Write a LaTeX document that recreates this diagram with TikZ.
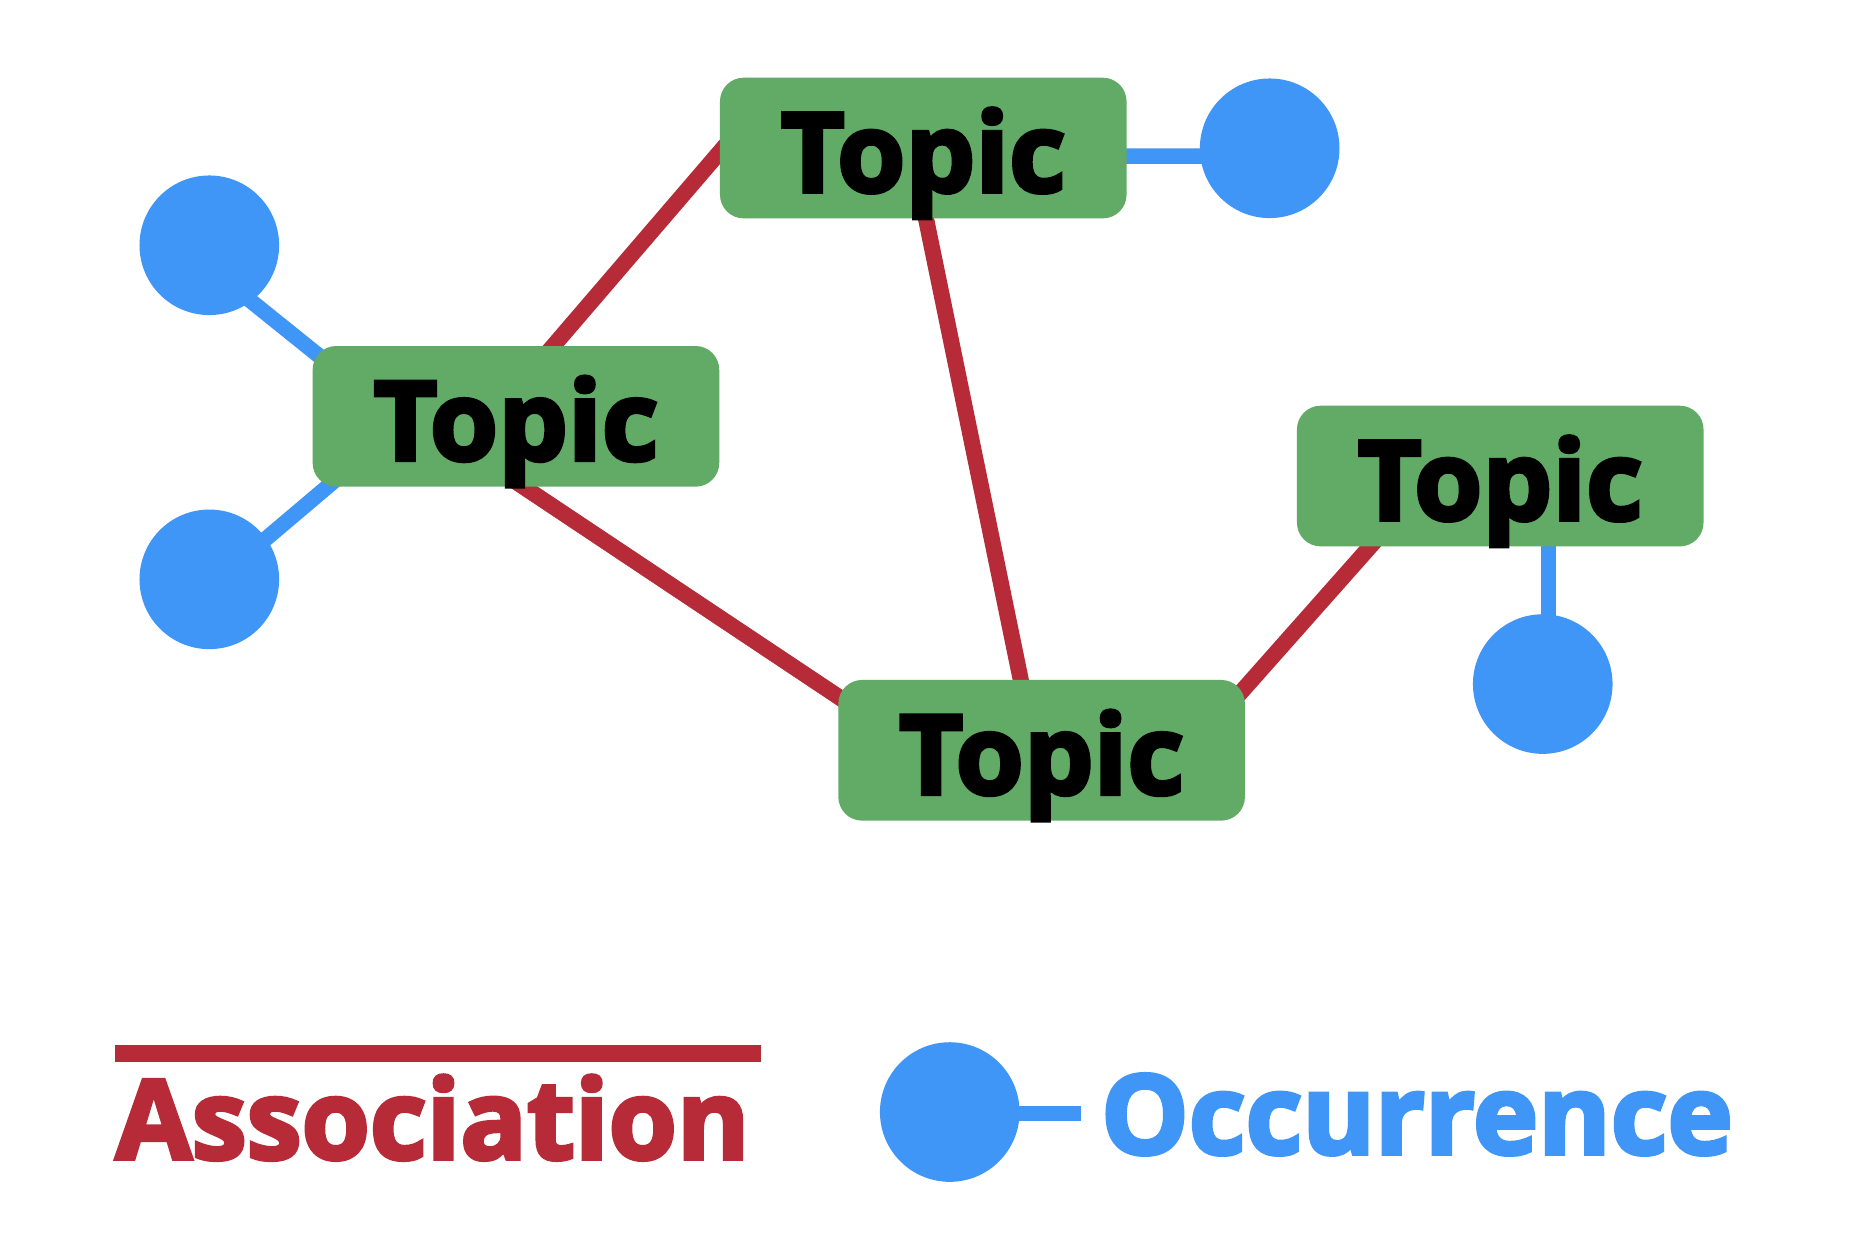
\documentclass[tikz,border=0pt]{standalone}
\usepackage{fontspec}
\setmainfont{Open Sans}[BoldFeatures={FakeBold=3.5}]
\usetikzlibrary{backgrounds,calc}
\definecolor{tgreen}{RGB}{98,171,102}
\definecolor{tred}{RGB}{182,43,55}
\definecolor{tblue}{RGB}{63,150,246}
\begin{document}
\begin{tikzpicture}[x=0.5pt,y=-0.5pt,
  topicbox/.style={fill=tgreen, rounded corners=10pt, minimum width=171.25pt, minimum height=59.25pt,
    inner sep=0pt, font=\bfseries\fontsize{46.5}{50}\selectfont, text height=37pt, text depth=0pt},
  occ/.style={circle, fill=tblue, minimum size=58.8pt, inner sep=0pt},
  assoc/.style={draw=tred, line width=6.75pt},
  occline/.style={draw=tblue, line width=6.5pt},
  legtext/.style={inner sep=0pt, anchor=base west, font=\bfseries\fontsize{46.5}{50}\selectfont}]
\useasboundingbox (0,0) rectangle (1560,1048);
% topics
\node[topicbox] (A) at (777.7,124.7) {Topic};
\node[topicbox] (B) at (434.6,350.7) {Topic};
\node[topicbox] (C) at (1263.7,401) {Topic};
\node[topicbox] (D) at (877.4,632) {Topic};
% occurrences
\node[occ] (o1) at (176.3,206.6) {};
\node[occ] (o2) at (176.3,488) {};
\node[occ] (o3) at (1069.5,124.9) {};
\node[occ] (o4) at (1299.5,576.2) {};
% legend
\coordinate (la) at (96.9,887.2);
\coordinate (lb) at (640.7,887.2);
\draw[tred, line width=7pt] (la) -- (lb);
\node[legtext, text=tred] (lassoc) at (97,976.3) {Association};
\node[occ] (lo) at (800,936.7) {};
\coordinate (lc) at (910.3,937.8);
\node[legtext, text=tblue] (locc) at (927,972) {Occurrence};
\begin{scope}[on background layer]
  \fill[white] (0,0) rectangle (1560,1048);
  \draw[assoc] ($(A)+(-154.9,-15.9)$) -- ($(B)+(15.1,-40.3)$);
  \draw[assoc] ($(B)+(-10.4,48.2)$) -- ($(D)+(-154.7,-34.1)$);
  \draw[assoc] ($(A)+(-1.8,39.6)$) -- ($(D)+(-13.5,-39.6)$);
  \draw[assoc] ($(D)+(153.8,-33)$) -- ($(C)+(-96.4,44.5)$);
  \draw[occline] ($(o1)+(12.3,28.7)$) -- ($(B)+(-141.7,-31.5)$);
  \draw[occline] ($(o2)+(24.6,-14.6)$) -- ($(B)+(-133.2,37.6)$);
  \draw[occline] ($(A)+(0,6.8)$) -- ($(o3)+(0,6.7)$);
  \draw[occline] ($(C)+(40.5,0)$) -- ($(o4)+(4.7,0)$);
  \draw[occline] ($(lo)+(0,1.1)$) -- (lc);
\end{scope}
\end{tikzpicture}
\end{document}
